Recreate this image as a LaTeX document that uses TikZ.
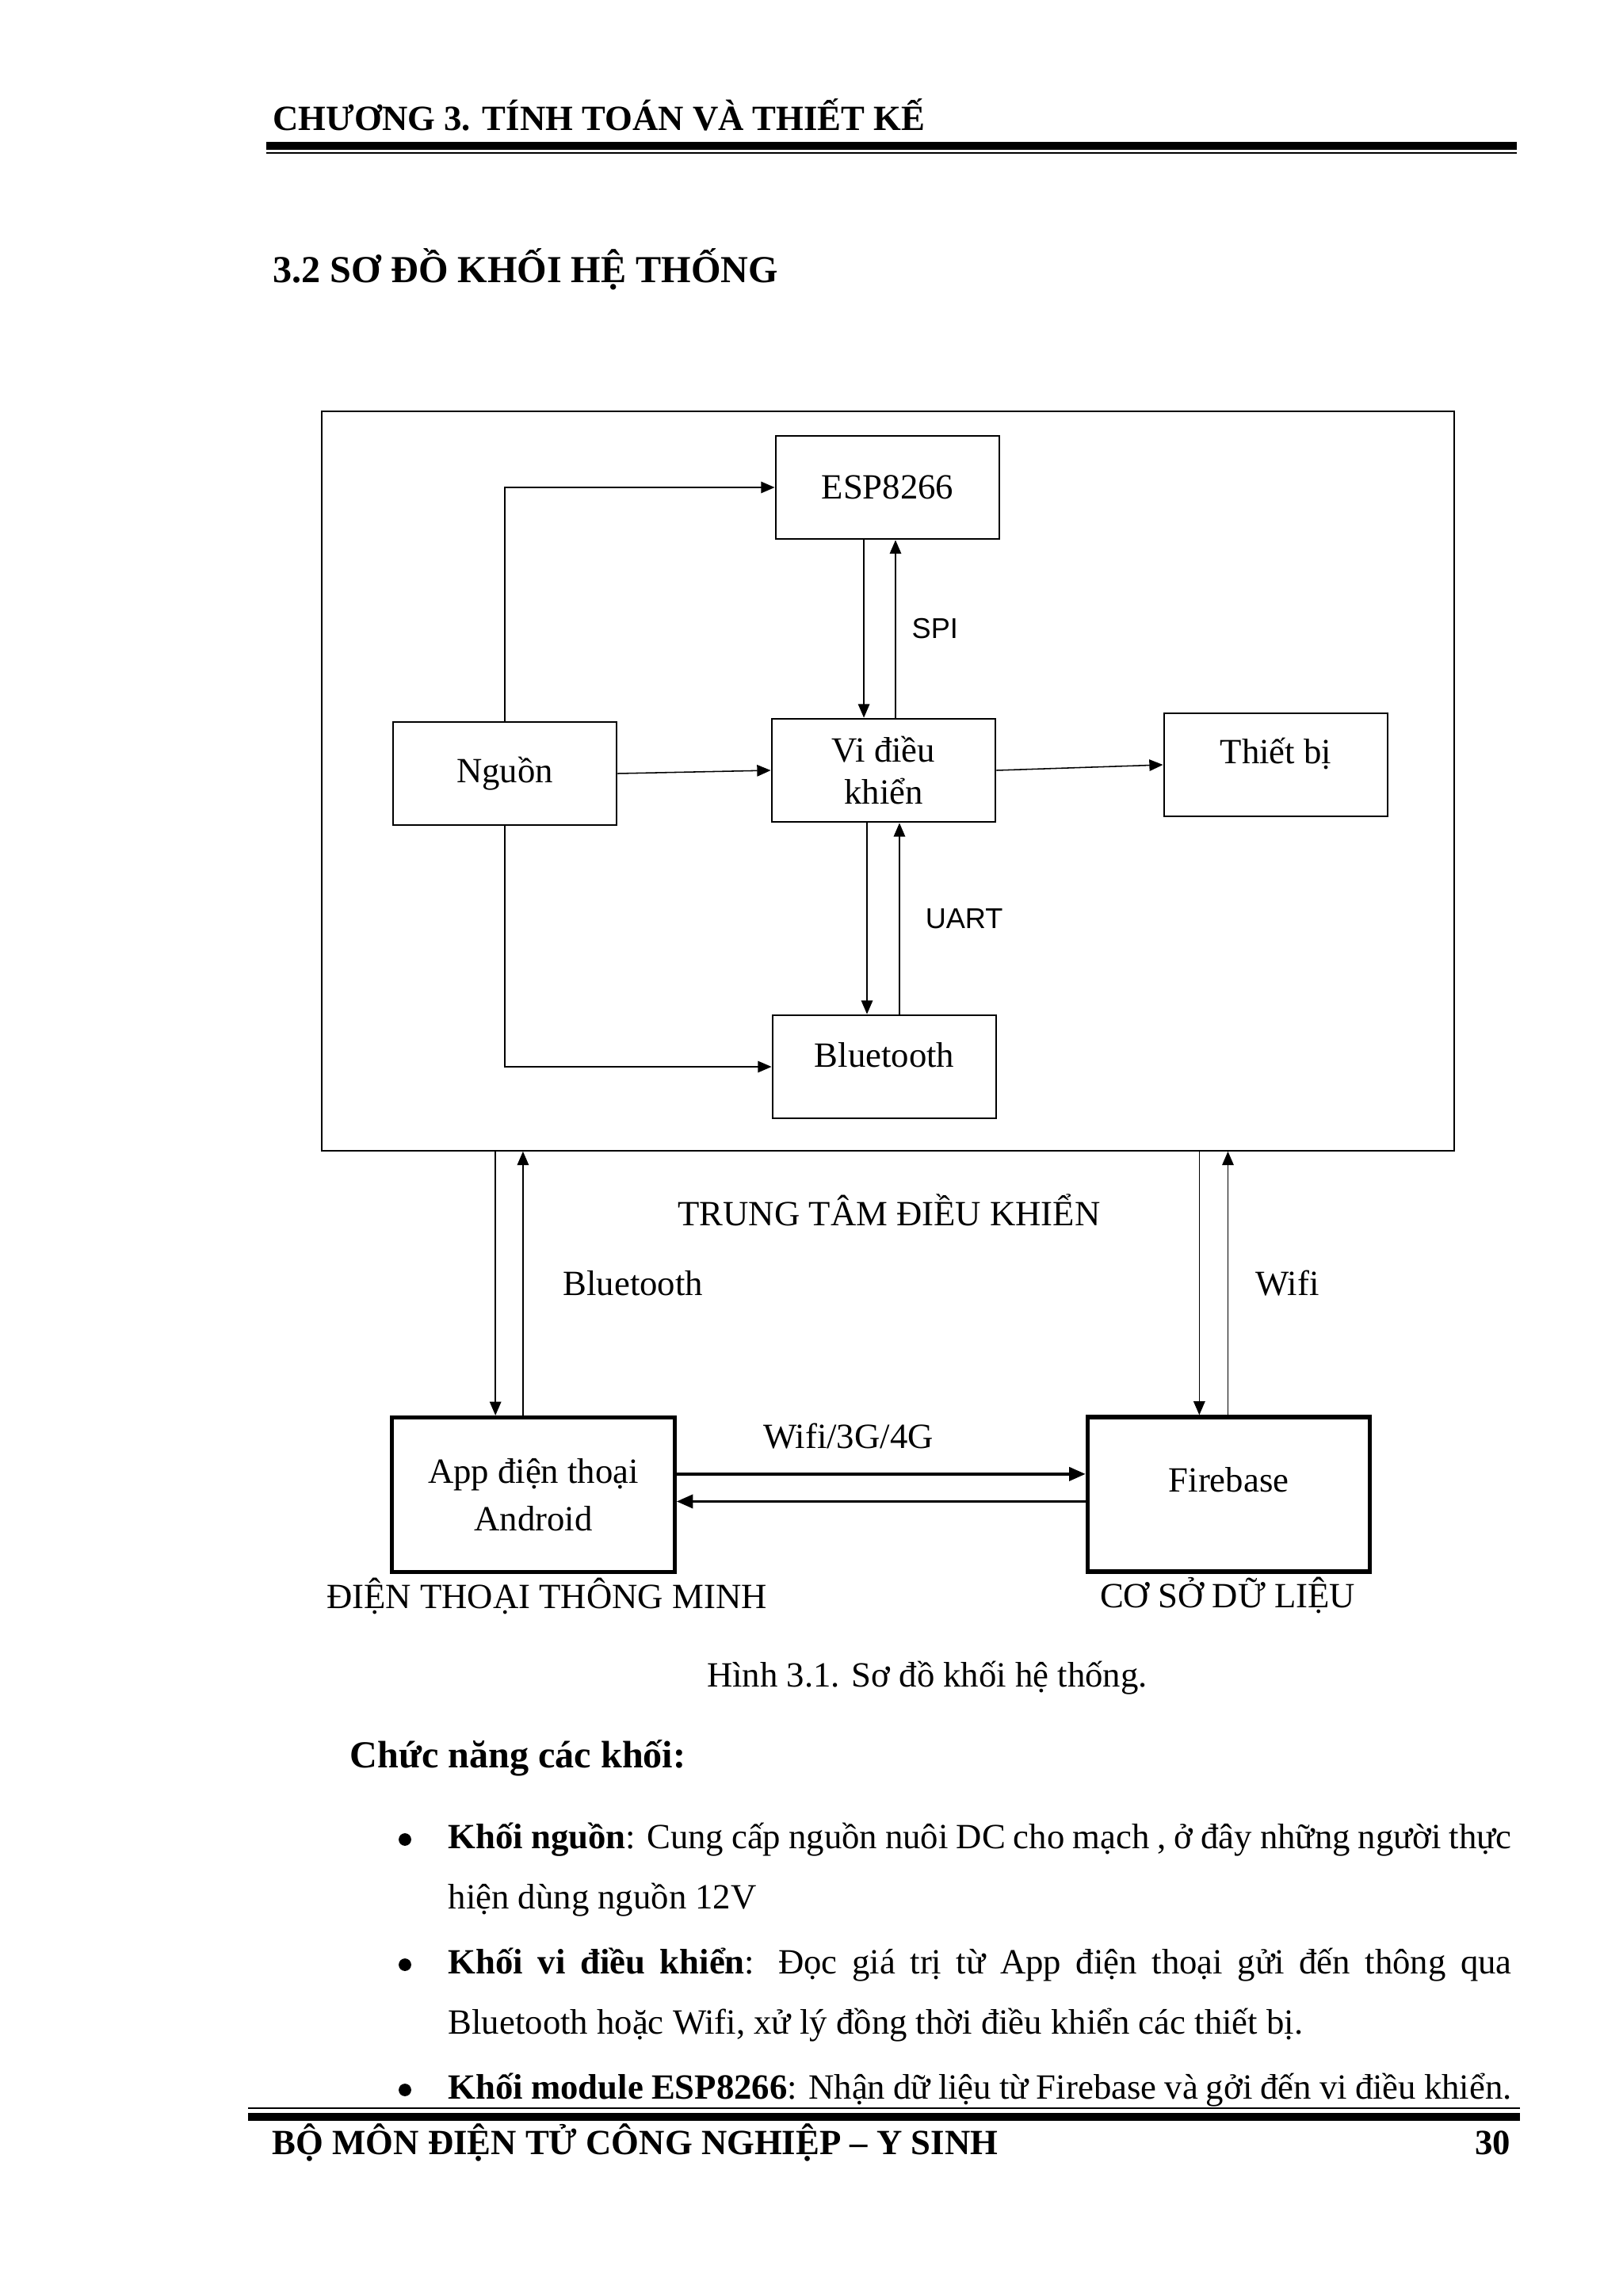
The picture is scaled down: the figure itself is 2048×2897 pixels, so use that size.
\documentclass[tikz,border=0pt]{standalone}
\usepackage{fontspec}
\setmainfont{Liberation Serif}
\newfontfamily\arialfont{Liberation Sans}
\usetikzlibrary{arrows.meta,positioning}
\newcommand{\thirteen}{\fontsize{13pt}{15.6pt}\selectfont}
\newcommand{\fourteen}{\fontsize{14pt}{16.8pt}\selectfont}
\newcommand{\bodytext}{\fontsize{13pt}{22.1pt}\selectfont\hyphenpenalty=10000}
\begin{document}
\begin{tikzpicture}[x=0.2906pt, y=-0.2906pt,
  blk/.style={draw, line width=0.8pt, minimum width=82pt, minimum height=37.8pt, inner sep=2pt, align=center, font=\thirteen},
  bigblk/.style={draw, line width=1.5pt, minimum width=103.6pt, minimum height=56.7pt, inner sep=2pt, align=center, font=\thirteen},
  lbl/.style={font=\thirteen, inner sep=0pt},
  bus/.style={font=\arialfont\fontsize{10.5pt}{12pt}\selectfont, inner sep=0pt},
  head/.style={anchor=base west, inner sep=0pt, font=\bfseries\thirteen},
  para/.style={anchor=base west, inner sep=0pt, text width=390pt, align=justify, font=\bodytext},
  dot/.style={circle, fill, minimum size=4.6pt, inner sep=0pt},
  arr/.style={-{Triangle[length=5pt,width=4.2pt]}, line width=0.45pt},
  fatarr/.style={-{Triangle[length=6pt,width=5pt]}, line width=1pt}]
\fill[white] (0,0) rectangle (2048,2897);
\useasboundingbox (0,0) rectangle (2048,2897);

% header
\node[head] (chuong) at (344,165) {CHƯƠNG 3. TÍNH TOÁN VÀ THIẾT KẾ};
\draw[line width=2.9pt] (336,184) -- (1914,184);
\draw[line width=0.6pt] (336,193) -- (1914,193);
\node[head, font=\bfseries\fourteen] (muc) at (344,357) {3.2 SƠ ĐỒ KHỐI HỆ THỐNG};

% trung tam dieu khien
\node[draw, line width=0.5pt, minimum width=415.3pt, minimum height=271.1pt] (ttdk) at (1120.5,985.5) {};
\node[blk] (esp) at (1120,615) {ESP8266};
\node[blk] (nguon) at (637,976) {Nguồn};
\node[blk] (vdk) at (1115,972) {Vi điều\\khiển};
\node[blk, text depth=10pt] (thietbi) at (1610,965) {Thiết bị};
\node[blk, text depth=9pt] (bt) at (1116,1346) {Bluetooth};

\draw[arr] (nguon.north) |- (esp.west);
\draw[arr] (nguon.south) |- (bt.west);
\draw[arr] (nguon.east) -- (vdk.west);
\draw[arr] (vdk.east) -- (thietbi.west);
\draw[arr] ([xshift=-8.7pt]esp.south) -- ([xshift=-8.7pt]esp.south |- vdk.north);
\draw[arr] ([xshift=2.9pt]esp.south |- vdk.north) -- node[bus, midway, right=5.8pt] {SPI} ([xshift=2.9pt]esp.south);
\draw[arr] ([xshift=-6.1pt]vdk.south) -- ([xshift=-6.1pt]vdk.south |- bt.north);
\draw[arr] ([xshift=5.8pt]vdk.south |- bt.north) -- node[bus, midway, right=9.3pt] {UART} ([xshift=5.8pt]vdk.south);

\node[lbl, anchor=base] (tten) at (1122,1546) {TRUNG TÂM ĐIỀU KHIỂN};

% dien thoai va co so du lieu
\node[bigblk] (app) at (673,1886) {App điện thoại\\[1.8pt]Android};
\node[bigblk, text depth=10.5pt] (fb) at (1550.5,1885.5) {Firebase};

\draw[arr] ([xshift=-13.9pt]app.north |- ttdk.south) -- ([xshift=-13.9pt]app.north);
\draw[arr] ([xshift=-3.8pt]app.north) -- node[lbl, midway, right=14.5pt] {Bluetooth} ([xshift=-3.8pt]app.north |- ttdk.south);
\draw[arr] ([xshift=-10.8pt]fb.north |- ttdk.south) -- ([xshift=-10.8pt]fb.north);
\draw[arr] ([xshift=-0.3pt]fb.north) -- node[lbl, midway, right=9.9pt] {Wifi} ([xshift=-0.3pt]fb.north |- ttdk.south);
\draw[fatarr] ([yshift=7.6pt]app.east) -- node[lbl, pos=0.42, above=8.8pt] {Wifi/3G/4G} ([yshift=7.6pt]app.east -| fb.west);
\draw[fatarr] ([yshift=-2.6pt]fb.west) -- ([yshift=-2.6pt]fb.west -| app.east);

\node[lbl, anchor=base] (dtdd) at (690,2029) {ĐIỆN THOẠI THÔNG MINH};
\node[lbl, anchor=base] (csdl) at (1549,2028) {CƠ SỞ DỮ LIỆU};
\node[lbl, anchor=base] (hinh) at (1170,2128) {Hình 3.1. Sơ đồ khối hệ thống.};

% chuc nang cac khoi
\node[head, font=\bfseries\fourteen] (chucnang) at (441,2230) {Chức năng các khối:};
\node[dot] (dot1) at (511,2321) {};
\node[para] (khoi1) at (565,2332) {\textbf{Khối nguồn}: Cung cấp nguồn nuôi DC cho mạch , ở đây những người thực\linebreak hiện dùng nguồn 12V};
\node[dot] (dot2) at (511,2479) {};
\node[para] (khoi2) at (565,2490) {\textbf{Khối vi điều khiển}: Đọc giá trị từ App điện thoại gửi đến thông qua\linebreak Bluetooth hoặc Wifi, xử lý đồng thời điều khiển các thiết bị.};
\node[dot] (dot3) at (511,2637) {};
\node[para] (khoi3) at (565,2648) {\textbf{Khối module ESP8266}: Nhận dữ liệu từ Firebase và gởi đến vi điều khiển.};

% footer
\draw[line width=0.6pt] (313,2660) -- (1918,2660);
\draw[line width=2.9pt] (313,2671) -- (1918,2671);
\node[head] (bomon) at (343,2718) {BỘ MÔN ĐIỆN TỬ CÔNG NGHIỆP – Y SINH};
\node[head, anchor=base east] (trang) at (1907,2718) {30};
\end{tikzpicture}
\end{document}
